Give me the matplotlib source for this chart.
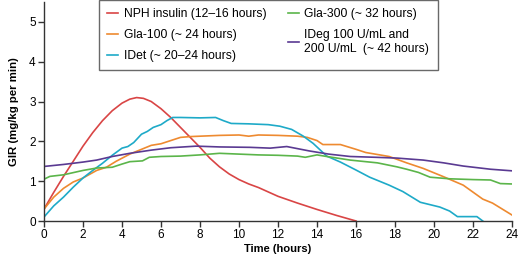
import matplotlib
matplotlib.use("Agg")
import matplotlib.pyplot as plt

plt.rcParams["font.family"] = ["Liberation Sans", "DejaVu Sans"]

# NPH insulin
nph_t = [0, 0.5, 1, 1.5, 2, 2.5, 3, 3.5, 4, 4.4, 4.75, 5.1, 5.5, 6, 6.5, 7, 7.5, 8, 8.5, 9, 9.5, 10, 10.5, 11, 12, 13, 14, 15, 16]
nph_y = [0.3, 0.72, 1.12, 1.5, 1.88, 2.22, 2.52, 2.77, 2.96, 3.06, 3.1, 3.08, 3.0, 2.82, 2.6, 2.35, 2.1, 1.85, 1.58, 1.36, 1.18, 1.04, 0.93, 0.84, 0.62, 0.45, 0.29, 0.14, 0.0]

# Gla-100
gla100_t = [0, 0.5, 1, 1.5, 2, 2.7, 3.2, 3.7, 4.4, 5, 5.5, 6, 6.5, 7, 7.5, 8, 9, 10, 10.5, 11, 12, 13, 13.5, 14, 14.3, 15.2, 16, 16.5, 17.7, 18.6, 19.45, 20.5, 21.5, 22.5, 23, 24]
gla100_y = [0.3, 0.6, 0.82, 0.98, 1.08, 1.27, 1.35, 1.5, 1.68, 1.8, 1.9, 1.94, 2.02, 2.1, 2.12, 2.13, 2.15, 2.16, 2.13, 2.16, 2.15, 2.13, 2.1, 2.02, 1.92, 1.92, 1.8, 1.72, 1.62, 1.46, 1.32, 1.11, 0.9, 0.55, 0.45, 0.15]

# IDet
idet_t = [0, 0.5, 1, 1.5, 2, 2.5, 3, 3.5, 4, 4.3, 4.6, 5, 5.3, 5.6, 6, 6.3, 6.6, 7, 8, 8.8, 9.2, 9.6, 10.5, 11.5, 12.1, 12.7, 13.3, 13.8, 14.5, 15.2, 16, 16.7, 17.7, 18.4, 19.3, 20.3, 20.8, 21.2, 22.2, 22.5]
idet_y = [0.1, 0.38, 0.6, 0.85, 1.08, 1.27, 1.45, 1.65, 1.83, 1.87, 1.97, 2.18, 2.25, 2.35, 2.42, 2.52, 2.6, 2.6, 2.59, 2.6, 2.52, 2.45, 2.44, 2.42, 2.38, 2.3, 2.13, 1.95, 1.63, 1.48, 1.28, 1.1, 0.9, 0.74, 0.47, 0.35, 0.25, 0.11, 0.11, 0.0]

# Gla-300
gla300_t = [0, 0.3, 1, 2, 2.7, 3.5, 4, 4.4, 5.05, 5.4, 6, 7, 8, 9, 10, 11, 12, 13, 13.4, 14.0, 14.5, 15.7, 17.1, 18.1, 18.6, 19.2, 19.8, 20.8, 22, 22.9, 23.4, 24]
gla300_y = [1.05, 1.12, 1.16, 1.27, 1.33, 1.35, 1.43, 1.49, 1.51, 1.6, 1.62, 1.63, 1.66, 1.7, 1.68, 1.66, 1.65, 1.63, 1.6, 1.66, 1.62, 1.53, 1.46, 1.36, 1.3, 1.22, 1.1, 1.06, 1.04, 1.03, 0.94, 0.93]

# IDeg 100 / 200 U/mL
ideg_t = [0, 1, 2, 2.7, 3.5, 4.4, 5.5, 6.5, 7.8, 9, 10.56, 11.6, 12.45, 13.6, 14.6, 15.7, 17, 18.1, 19.45, 20.5, 21.5, 22.9, 24]
ideg_y = [1.37, 1.42, 1.48, 1.53, 1.62, 1.7, 1.78, 1.84, 1.88, 1.86, 1.85, 1.83, 1.87, 1.76, 1.68, 1.62, 1.6, 1.58, 1.53, 1.46, 1.38, 1.3, 1.26]

labels = ["NPH insulin (12\u201316 hours)", "Gla-100 (~ 24 hours)", "IDet (~ 20\u201324 hours)",
          "Gla-300 (~ 32 hours)", "IDeg 100 U/mL and\n200 U/mL  (~ 42 hours)"]
colors = ["#d94545", "#ee8a30", "#1eaac8", "#5bb54a", "#5a3a92"]

fig = plt.figure(figsize=(5.2, 2.6), dpi=100)
ax = fig.add_axes([44 / 520, 39 / 260, 468 / 520, 219 / 260])

series = [(nph_t, nph_y), (gla100_t, gla100_y), (idet_t, idet_y), (gla300_t, gla300_y), (ideg_t, ideg_y)]
for (t, y), lab, c in zip(series, labels, colors):
    ax.plot(t, y, color=c, linewidth=1.2, label=lab)

ax.set_xlim(0, 24)
ax.set_ylim(0, 5.5)
ax.set_xticks(range(0, 25, 2))
ax.set_yticks(range(0, 6))
ax.spines["top"].set_visible(False)
ax.spines["right"].set_visible(False)
for s in ["left", "bottom"]:
    ax.spines[s].set_color("#333333")
    ax.spines[s].set_linewidth(1.0)
ax.tick_params(direction="out", length=4, width=1, color="#333333", labelsize=8.5, pad=2)
ax.set_xlabel("Time (hours)", fontsize=8, fontweight="bold", labelpad=2)
ax.set_ylabel("GIR (mg/kg per min)", fontsize=8.2, fontweight="bold", labelpad=7)

leg = ax.legend(loc="upper left", bbox_to_anchor=(99 / 520, 1.0), bbox_transform=fig.transFigure,
                ncol=2, fontsize=8.7, frameon=True, fancybox=False, handlelength=0.9,
                columnspacing=1.8, borderpad=0.7, labelspacing=0.72, handletextpad=0.45,
                borderaxespad=0)
leg.get_frame().set_edgecolor("#444444")
leg.get_frame().set_linewidth(1.0)

fig.savefig("out.png", dpi=100, facecolor="white")
